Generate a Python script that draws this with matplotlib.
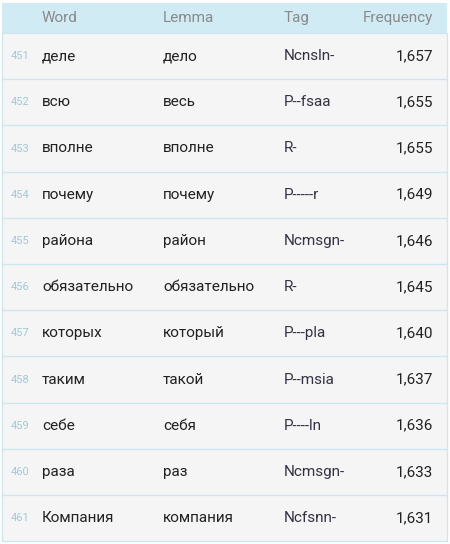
import matplotlib.pyplot as plt
from matplotlib.patches import Rectangle

plt.rcParams['font.family'] = ['Roboto', 'DejaVu Sans']

ranks = [451, 452, 453, 454, 455, 456, 457, 458, 459, 460, 461]
words = ["деле", "всю", "вполне", "почему", "района", "обязательно",
         "которых", "таким", "себе", "раза", "Компания"]
lemmas = ["дело", "весь", "вполне", "почему", "район", "обязательно",
          "который", "такой", "себя", "раз", "компания"]
tags = ["Ncnsln-", "P--fsaa", "R-", "P-----r", "Ncmsgn-", "R-",
        "P---pla", "P--msia", "P----ln", "Ncmsgn-", "Ncfsnn-"]
freqs = [1657, 1655, 1655, 1649, 1646, 1645, 1640, 1637, 1636, 1633, 1631]
headers = ["Word", "Lemma", "Tag", "Frequency"]

W, H = 450, 544
fig = plt.figure(figsize=(W / 100, H / 100), dpi=100)
ax = fig.add_axes([0, 0, 1, 1])
ax.set_xlim(0, W)
ax.set_ylim(H, 0)
ax.axis('off')

x0, x1 = 2, 447
head_top, head_bot = 3, 33
row_h = 46.2
border = '#cde6f0'

ax.add_patch(Rectangle((x0, head_top), x1 - x0, head_bot - head_top,
                       fc='#d0ebf4', ec='none'))
ax.add_patch(Rectangle((x0, head_bot), x1 - x0, row_h * len(words),
                       fc='#f5f5f5', ec=border, lw=1))
hy = (head_top + head_bot) / 2
for lbl, x, ha in zip(headers, [42, 163, 284, 433], ['left', 'left', 'left', 'right']):
    ax.text(x, hy, lbl, ha=ha, va='center', fontsize=11, color='#8a8a8a')

for i in range(len(words)):
    top = head_bot + i * row_h
    y = top + row_h / 2
    if i > 0:
        ax.plot([x0, x1], [top, top], color=border, lw=1)
    ax.text(11, y, str(ranks[i]), ha='left', va='center', fontsize=8, color='#9fc9dc')
    ax.text(42, y, words[i], ha='left', va='center', fontsize=11, color='#222222')
    ax.text(163, y, lemmas[i], ha='left', va='center', fontsize=11, color='#222222')
    ax.text(284, y, tags[i], ha='left', va='center', fontsize=11, color='#333344')
    ax.text(433, y, f"{freqs[i]:,}", ha='right', va='center', fontsize=11, color='#222222')

fig.savefig('out.png', dpi=100)
